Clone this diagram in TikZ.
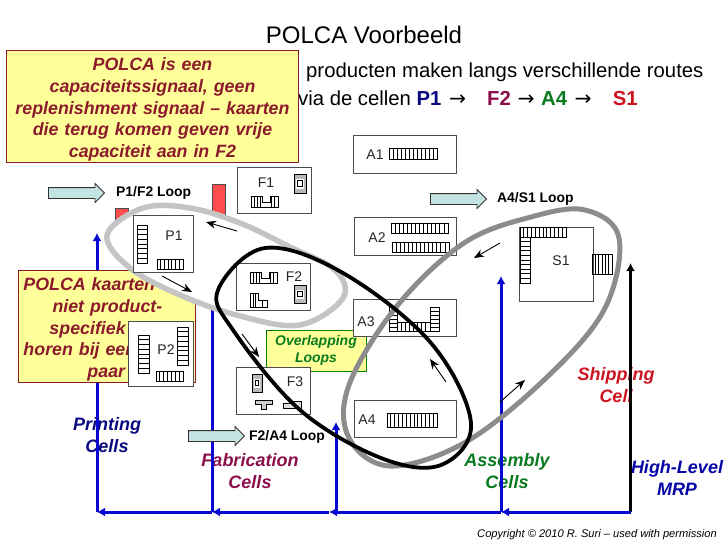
\documentclass[tikz,border=0pt]{standalone}
\usepackage{fontspec}
\setmainfont{Liberation Sans}
\newfontfamily\symfont{DejaVu Sans}
\usetikzlibrary{arrows.meta, positioning, shapes.arrows}

\definecolor{noteyellow}{HTML}{FFFF99}
\definecolor{notered}{HTML}{8B1A2C}
\definecolor{printblue}{HTML}{0A0A80}
\definecolor{fabred}{HTML}{8B0F4B}
\definecolor{assygreen}{HTML}{0A7A1E}
\definecolor{shipred}{HTML}{CC1420}
\definecolor{busblue}{HTML}{0808D0}
\definecolor{loopgrey}{HTML}{C4C4C4}
\definecolor{loopdark}{HTML}{8C8C8C}
\definecolor{tagblue}{HTML}{C4E4E4}

% Machine glyphs
\newcommand{\combrow}[5]{%
  \draw[glyph] (#1,#2) rectangle (#3,#4);
  \foreach \i in {1,...,#5} {
    \pgfmathsetmacro\xx{#1+(#3-#1)*\i/(#5+1)}
    \draw[glyph] (\xx,#2) -- (\xx,#4);
  }}
\newcommand{\stackrow}[5]{%
  \draw[glyph] (#1,#2) rectangle (#3,#4);
  \foreach \i in {1,...,#5} {
    \pgfmathsetmacro\yy{#2+(#4-#2)*\i/(#5+1)}
    \draw[glyph] (#1,\yy) -- (#3,\yy);
  }}
\newcommand{\toolicon}[4]{%
  \draw[glyph, fill=gray!55] (#1,#2) rectangle (#3,#4);
  \fill[white] ({#1+2},{#2+4.5}) rectangle ({#3-2},{#4-4.5});
  \draw[glyph] ({#1+3.5},{#2+6.5}) rectangle ({#3-3.5},{#4-6.5});}
\newcommand{\notchrow}[2]{%
  \draw[glyph] (#1,#2) -- ++(0,11) -- ++(27,0) -- ++(0,-11) -- ++(-8,0) -- ++(0,6) -- ++(-8,0) -- ++(0,-6) -- cycle;
  \foreach \dx in {3,6,9,20,23} {
    \draw[glyph] ({#1+\dx},#2) -- ({#1+\dx},{#2+11});
  }}

\begin{document}
\begin{tikzpicture}[
            x=1pt, y=-1pt,
            glyph/.style={draw=black, line width=0.8pt},
            cell/.style={draw=black!70, fill=white, line width=1pt, inner sep=0pt},
            celltext/.style={font=\fontsize{14}{17}\selectfont, text=black!85, inner sep=0pt},
            note/.style={draw=notered, fill=noteyellow, line width=1pt, inner sep=0pt, text=notered,
                font=\fontsize{17.8}{21.8}\selectfont\bfseries\itshape},
            looptext/.style={font=\fontsize{13.9}{16}\selectfont\bfseries, inner sep=0pt},
            blockarrow/.style={single arrow, draw=black!80, fill=tagblue, line width=0.9pt, inner xsep=0pt, inner ysep=5pt,
                single arrow head extend=4pt, single arrow head indent=0pt, minimum height=56pt},
            celltitle/.style={font=\fontsize{18}{21.8}\selectfont\bfseries\itshape, align=center, inner sep=0pt},
            bus/.style={draw=busblue, line width=3pt},
            bustip/.style={-{Latex[length=8pt,width=9pt]}},
            flow/.style={-{Stealth[length=10pt,width=8pt]}, line width=0.9pt},
            redbar/.style={draw=black!70, fill=red!70!white, line width=0.8pt, inner sep=0pt}
        ]
        \useasboundingbox (0,0) rectangle (728,546);

        % Heading
        \node[font=\fontsize{24}{28}\selectfont, inner sep=0pt] (title) at (364,35) {POLCA Voorbeeld};
        \node[font=\fontsize{20.3}{24}\selectfont, inner sep=0pt, anchor=base west] (line1) at (306,77) {producten maken langs verschillende routes};
        \node[font=\fontsize{20.3}{24}\selectfont, inner sep=0pt, anchor=base west] (line2) at (298,105) {via de cellen \textcolor{printblue}{\bfseries P1}\hspace{2pt} {\symfont →}\hspace{21pt}\textcolor{fabred}{\bfseries F2}\hspace{1pt} {\symfont →}\hspace{1pt} \textcolor{assygreen}{\bfseries A4}\hspace{2pt} {\symfont →}\hspace{21pt}\textcolor{shipred}{\bfseries S1}};

        % Cell group titles
        \node[celltitle, text=printblue] (printing) at (107,435) {Printing\\Cells};
        \node[celltitle, text=fabred] (fabrication) at (250,471) {Fabrication\\Cells};
        \node[celltitle, text=assygreen] (assembly) at (507,471) {Assembly\\Cells};
        \node[celltitle, text=shipred] (shipping) at (616,385) {Shipping\\Cell};
        \node[celltitle, text=busblue!80!black] (mrp) at (677,478) {High-Level\\MRP};
        \node[font=\fontsize{11.1}{13}\selectfont\itshape, inner sep=0pt] (copyright) at (597,535) {Copyright © 2010 R. Suri -- used with permission};

        % MRP lines
        \coordinate (busP) at (97,512);
        \coordinate (busF) at (212,512);
        \coordinate (busA) at (336,512);
        \coordinate (busAtip) at (329,512);
        \coordinate (busS) at (501,512);
        \coordinate (busM) at (630.5,512);
        \coordinate (topP) at (97,233);
        \coordinate (topF) at (212,300);
        \coordinate (topA) at (336,422);
        \coordinate (topS) at (501,276);
        \coordinate (topM) at (630.5,263);
        \draw[bus, bustip] (busP) -- (topP);
        \draw[bus] (busF) -- (topF);
        \draw[bus, bustip] (busA) -- (topA);
        \draw[bus, bustip] (busS) -- (topS);
        \draw[bus, bustip, draw=black] (busM) -- (topM);
        \draw[bus, bustip] (busM) -- (busS);
        \draw[bus, bustip] (busS) -- (busAtip);
        \draw[bus, bustip] (busAtip) -- (busF);
        \draw[bus, bustip] (busF) -- (busP);

        % Red bars and second note sit under the P1/F2 loop
        \node[redbar, minimum width=13pt, minimum height=30pt] (barbig) at (218.5,199) {};
        \node[redbar, minimum width=13pt, minimum height=20pt] (barsmall) at (121.5,218) {};
        \node[note, anchor=north west, minimum width=177pt, minimum height=112pt, align=left, text width=177pt] (noteB) at (18,270) {%
            \rule{0pt}{19pt}\hspace*{5pt}POLCA kaarten\\
            \hspace*{34pt}niet product-\\
            \hspace*{31pt}specifiek\\
            \hspace*{5pt}horen bij een\\
            \hspace*{69pt}paar};

        % P1/F2 loop
        \draw[draw=loopgrey, fill=white, line width=5.5pt] plot[smooth cycle, tension=0.6] coordinates {
            (107,235) (143,208) (190,208) (240,223) (290,247) (335,270)
            (343,298) (300,325) (240,316) (180,295) (130,268)};

        % Overlapping loops tag
        \node[draw=green!50!black, fill=noteyellow, line width=0.8pt, minimum width=100pt, minimum height=41pt, inner sep=0pt,
            align=center, text=assygreen, font=\fontsize{14}{17}\selectfont\bfseries\itshape] (overlap) at (316,350.5) {Overlapping\\Loops};

        % Cells
        \node[cell, minimum width=74pt, minimum height=46pt] (F1) at (274,190) {};
        \node[cell, minimum width=60pt, minimum height=57pt] (P1) at (163,243.5) {};
        \node[cell, minimum width=74pt, minimum height=47pt] (F2) at (273,286.5) {};
        \node[cell, minimum width=74pt, minimum height=47pt] (F3) at (273,390.5) {};
        \node[cell, minimum width=65pt, minimum height=65pt] (P2) at (160.5,353.5) {};
        \node[cell, minimum width=103pt, minimum height=38pt] (A1) at (404.5,154) {};
        \node[cell, minimum width=102pt, minimum height=38pt] (A2) at (405,236) {};
        \node[cell, minimum width=103pt, minimum height=37pt] (A3) at (404.5,317.5) {};
        \node[cell, minimum width=102pt, minimum height=37pt] (A4) at (405,418.5) {};
        \node[cell, minimum width=74pt, minimum height=74pt] (S1) at (556,264) {};

        \node[celltext] (F1text) at (266,183) {F1};
        \node[celltext] (P1text) at (174,236) {P1};
        \node[celltext] (F2text) at (294,277) {F2};
        \node[celltext] (F3text) at (295,382) {F3};
        \node[celltext] (P2text) at (166,350) {P2};
        \node[celltext] (A1text) at (375,155) {A1};
        \node[celltext] (A2text) at (377,238) {A2};
        \node[celltext] (A3text) at (366,322) {A3};
        \node[celltext] (A4text) at (367,420) {A4};
        \node[celltext] (S1text) at (561,261) {S1};

        % Machines
        \stackrow{137}{225}{147}{263}{7}
        \combrow{157}{259}{183}{269}{6}
        \notchrow{251}{196}
        \toolicon{294}{174}{306}{193}
        \notchrow{250}{272}
        \toolicon{294}{285}{306}{303}
        \draw[glyph] (250,307) -- (250,293) -- (258,293) -- (258,300) -- (267,300) -- (267,307) -- cycle;
        \draw[glyph] (253,293) -- (253,307) (255.5,293) -- (255.5,307) (262,300) -- (262,307);
        \toolicon{252}{374}{262}{392}
        \draw[glyph, fill=gray!40] (255,400) -- (272,400) -- (272,404) -- (266,404) -- (266,409) -- (261,409) -- (261,404) -- (255,404) -- cycle;
        \draw[glyph, fill=gray!25] (283,403) -- (293,403) -- (293,401) -- (301,401) -- (301,408) -- (283,408) -- cycle;
        \stackrow{138}{335}{149}{373}{7}
        \stackrow{177}{327}{188}{365}{7}
        \combrow{156}{371}{183}{381}{6}
        \combrow{389}{148}{437}{159}{11}
        \combrow{391}{223}{448}{233}{13}
        \combrow{392}{242}{449}{252}{13}
        \stackrow{389}{307}{397}{331}{5}
        \stackrow{430}{307}{439}{331}{5}
        \combrow{397}{322}{430}{331}{7}
        \combrow{387}{413}{437}{427}{12}
        \combrow{520}{227}{566}{237}{11}
        \stackrow{520}{237}{530}{283}{9}
        \combrow{592}{254}{612}{274}{5}

        % A4/S1 and F2/A4 loops
        \draw[draw=loopdark, line width=5pt] plot[smooth cycle, tension=0.6] coordinates {
            (585,210) (619,238) (604,310) (544,380) (464,443) (390,466) (349,438)
            (349,385) (397,306) (464,243) (531,217)};
        \draw[draw=black, line width=3.8pt] plot[smooth cycle, tension=0.6] coordinates {
            (265,248) (343,273) (431,343) (471,423) (441,465) (381,458)
            (300,410) (233,330) (218,290)};

        % Flow arrows
        \coordinate (flowAa) at (237,231);
        \coordinate (flowAb) at (206,222);
        \coordinate (flowBa) at (162,276);
        \coordinate (flowBb) at (192,292);
        \coordinate (flowCa) at (242,334);
        \coordinate (flowCb) at (259,357);
        \coordinate (flowDa) at (500,243);
        \coordinate (flowDb) at (474,258);
        \coordinate (flowEa) at (446,382);
        \coordinate (flowEb) at (430,359);
        \coordinate (flowFa) at (500,402);
        \coordinate (flowFb) at (525,380);
        \draw[flow] (flowAa) -- (flowAb);
        \draw[flow] (flowBa) -- (flowBb);
        \draw[flow] (flowCa) -- (flowCb);
        \draw[flow] (flowDa) -- (flowDb);
        \draw[flow] (flowEa) -- (flowEb);
        \draw[flow] (flowFa) -- (flowFb);

        % Loop tags
        \node[blockarrow, anchor=west] (arrowPF) at (48,193) {};
        \node[blockarrow, anchor=west] (arrowAS) at (430,199) {};
        \node[blockarrow, anchor=west] (arrowFA) at (188,436) {};
        \node[looptext, anchor=west] (tagPF) at (116,193) {P1/F2 Loop};
        \node[looptext, anchor=west] (tagAS) at (497,199) {A4/S1 Loop};
        \node[looptext, anchor=west] (tagFA) at (249,437) {F2/A4 Loop};

        % Top note
        \node[note, anchor=north west, minimum width=292pt, minimum height=112pt, align=center, text width=292pt] (noteA) at (6,50) {%
            \rule{0pt}{19pt}POLCA is een\\
            capaciteitssignaal, geen\\
            replenishment signaal -- kaarten\\
            die terug komen geven vrije\\
            capaciteit aan in F2};

    \end{tikzpicture}
\end{document}
